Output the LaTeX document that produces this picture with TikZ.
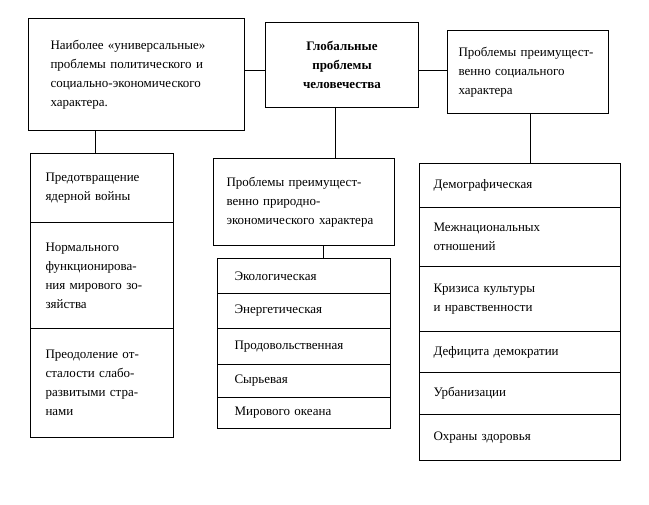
\documentclass[tikz,border=0pt]{standalone}
\usepackage{fontspec}
\setmainfont{Liberation Serif}
\usetikzlibrary{positioning}

\begin{document}
\begin{tikzpicture}[x=1pt, y=-1pt,
	box/.style={draw, line width=1pt, anchor=north west, align=left, inner xsep=#1,
		font=\fontsize{13}{19}\selectfont},
	box/.default=15pt,
	link/.style={draw, line width=1pt}]
	\useasboundingbox (0,0) rectangle (649,505);

	% top row
	\node [box=22pt, minimum width=216pt, minimum height=112pt, text width=172pt] (general) at (28,18)
		{Наиболее «универсальные»\\проблемы политического и\\социально-экономического\\характера.};
	\node [box=5pt, align=center, minimum width=153pt, minimum height=85pt,
		font=\bfseries\fontsize{13}{19}\selectfont] (global) at (265,22)
		{Глобальные\\проблемы\\человечества};
	\node [box=11pt, minimum width=161pt, minimum height=83pt, text width=139pt] (social) at (447,30)
		{Проблемы преимущест-\\венно социального\\характера};

	% left column
	\node [box, minimum width=143pt, minimum height=69pt, text width=113pt] (war) at (30,153)
		{Предотвращение\\ядерной войны};
	\node [box, minimum width=143pt, minimum height=106pt, text width=113pt] (economy) at (30,222)
		{Нормального\\функционирова-\\ния мирового зо-\\зяйства};
	\node [box, minimum width=143pt, minimum height=109pt, text width=113pt] (backward) at (30,328)
		{Преодоление от-\\сталости слабо-\\развитыми стра-\\нами};

	% middle column
	\node [box=13pt, minimum width=170pt, minimum height=87pt, text width=155pt] (nature) at (213,158)
		{Проблемы преимущест-\\венно природно-\\экономического характера};
	\node [box=17pt, minimum width=173pt, minimum height=35pt, text width=139pt] (ecology) at (217,258) {Экологическая};
	\node [box=17pt, minimum width=173pt, minimum height=35pt, text width=139pt] (energy) at (217,293) {Энергетическая};
	\node [box=17pt, minimum width=173pt, minimum height=36pt, text width=139pt] (food) at (217,328) {Продовольственная};
	\node [box=17pt, minimum width=173pt, minimum height=33pt, text width=139pt] (raw) at (217,364) {Сырьевая};
	\node [box=17pt, minimum width=173pt, minimum height=31pt, text width=139pt] (ocean) at (217,397) {Мирового океана};

	% right column
	\node [box=14pt, minimum width=201pt, minimum height=44pt, text width=173pt] (demo) at (419,163) {Демографическая};
	\node [box=14pt, minimum width=201pt, minimum height=59pt, text width=173pt] (nations) at (419,207)
		{Межнациональных\\отношений};
	\node [box=14pt, minimum width=201pt, minimum height=65pt, text width=173pt] (culture) at (419,266)
		{Кризиса культуры\\и нравственности};
	\node [box=14pt, minimum width=201pt, minimum height=41pt, text width=173pt] (democracy) at (419,331) {Дефицита демократии};
	\node [box=14pt, minimum width=201pt, minimum height=42pt, text width=173pt] (urban) at (419,372) {Урбанизации};
	\node [box=14pt, minimum width=201pt, minimum height=46pt, text width=173pt] (health) at (419,414) {Охраны здоровья};

	% connectors
	\draw [link] (general.east |- 0,71) -- (global.west |- 0,71);
	\draw [link] (global.east |- 0,71) -- (social.west |- 0,71);
	\draw [link] (general.south -| 95,0) -- (war.north -| 95,0);
	\draw [link] (global.south -| 335,0) -- (nature.north -| 335,0);
	\draw [link] (nature.south -| 323,0) -- (ecology.north -| 323,0);
	\draw [link] (social.south -| 530,0) -- (demo.north -| 530,0);
\end{tikzpicture}
\end{document}
